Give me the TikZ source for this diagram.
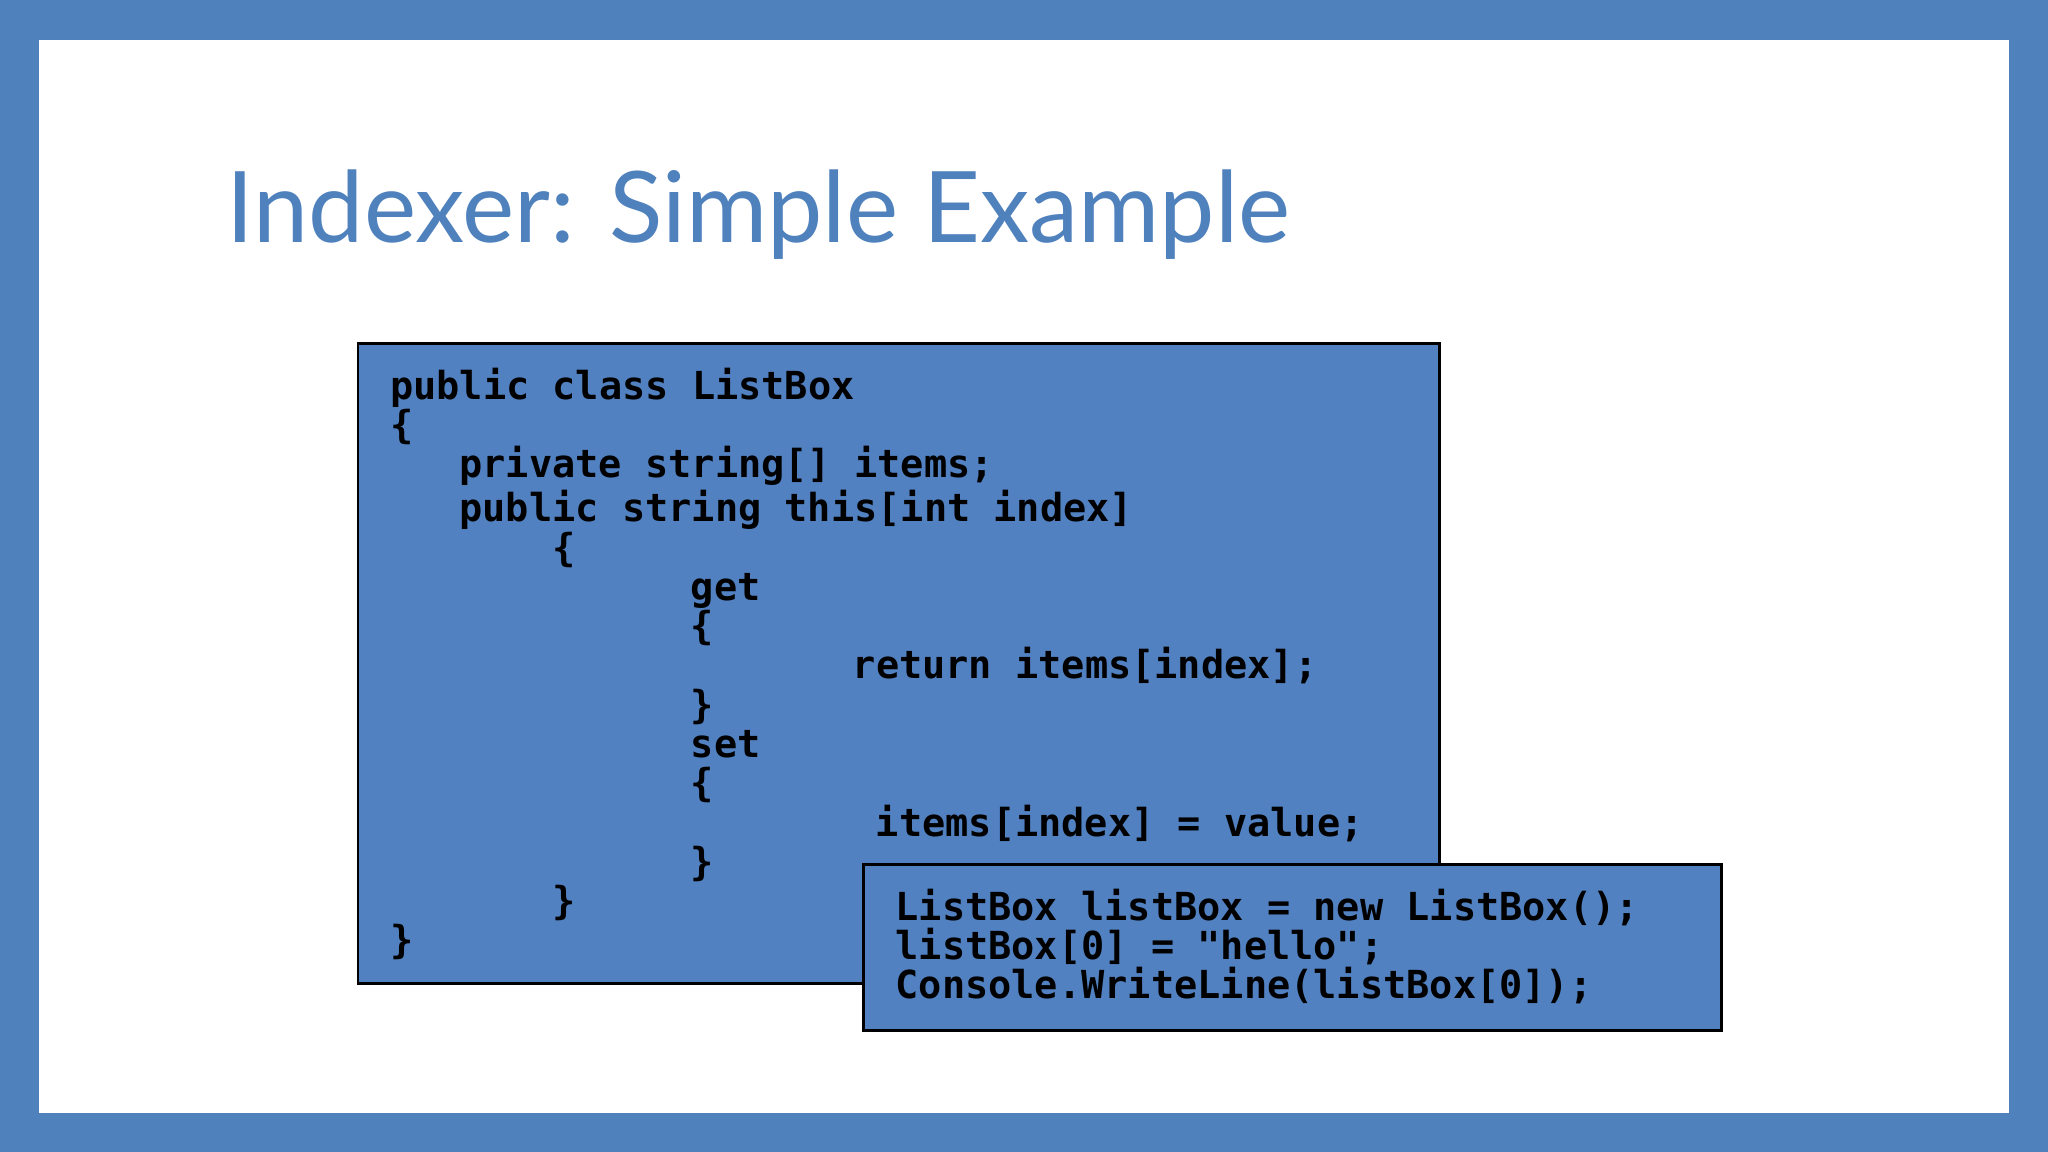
\documentclass[tikz,border=0pt]{standalone}
\usepackage{fontspec}
\setmainfont{Lato}
\setmonofont{DejaVu Sans Mono}
\definecolor{slideblue}{HTML}{4F81BD}
\definecolor{boxblue}{HTML}{5181C1}
\newcommand\tb[1]{\hspace*{#1\dimexpr 0.177cm\relax}}
\begin{document}
\begin{tikzpicture}[x=0.01cm, y=-0.01cm,
  codebox/.style={draw=black, fill=boxblue, line width=0.6pt},
  codetext/.style={anchor=north west, inner sep=0pt, align=left,
    font=\fontsize{8.4pt}{8.55pt}\selectfont\ttfamily\bfseries}]
  \fill[slideblue] (0,0) rectangle (1568,882);
  \fill[white] (30,31) rectangle (1538,852);
  \node (title) [anchor=base west, inner sep=0pt, text=slideblue,
    font=\fontsize{21.5pt}{24pt}\selectfont] at (173,186) {Indexer: Simple Example};
  \path[codebox] (274,263) rectangle (1102,753);
  \node (class) [codetext] at (298,281) {%
    public class ListBox\\
    \{\\
    \tb{3}private string[] items;\\
    \tb{3}public string this[int index]\\
    \tb{7}\{\\
    \tb{13}get\\
    \tb{13}\{\\
    \tb{20}return items[index];\\
    \tb{13}\}\\
    \tb{13}set\\
    \tb{13}\{\\
    \tb{21}items[index] = value;\\
    \\[-8.55pt]
    \tb{13}\}\\
    \tb{7}\}\\
    \}};
  \path[codebox] (661,662) rectangle (1318,789);
  \node (usage) [codetext] at (685,680) {%
    ListBox listBox = new ListBox();\\
    listBox[0] = "hello";\\
    Console.WriteLine(listBox[0]);};
\end{tikzpicture}
\end{document}
